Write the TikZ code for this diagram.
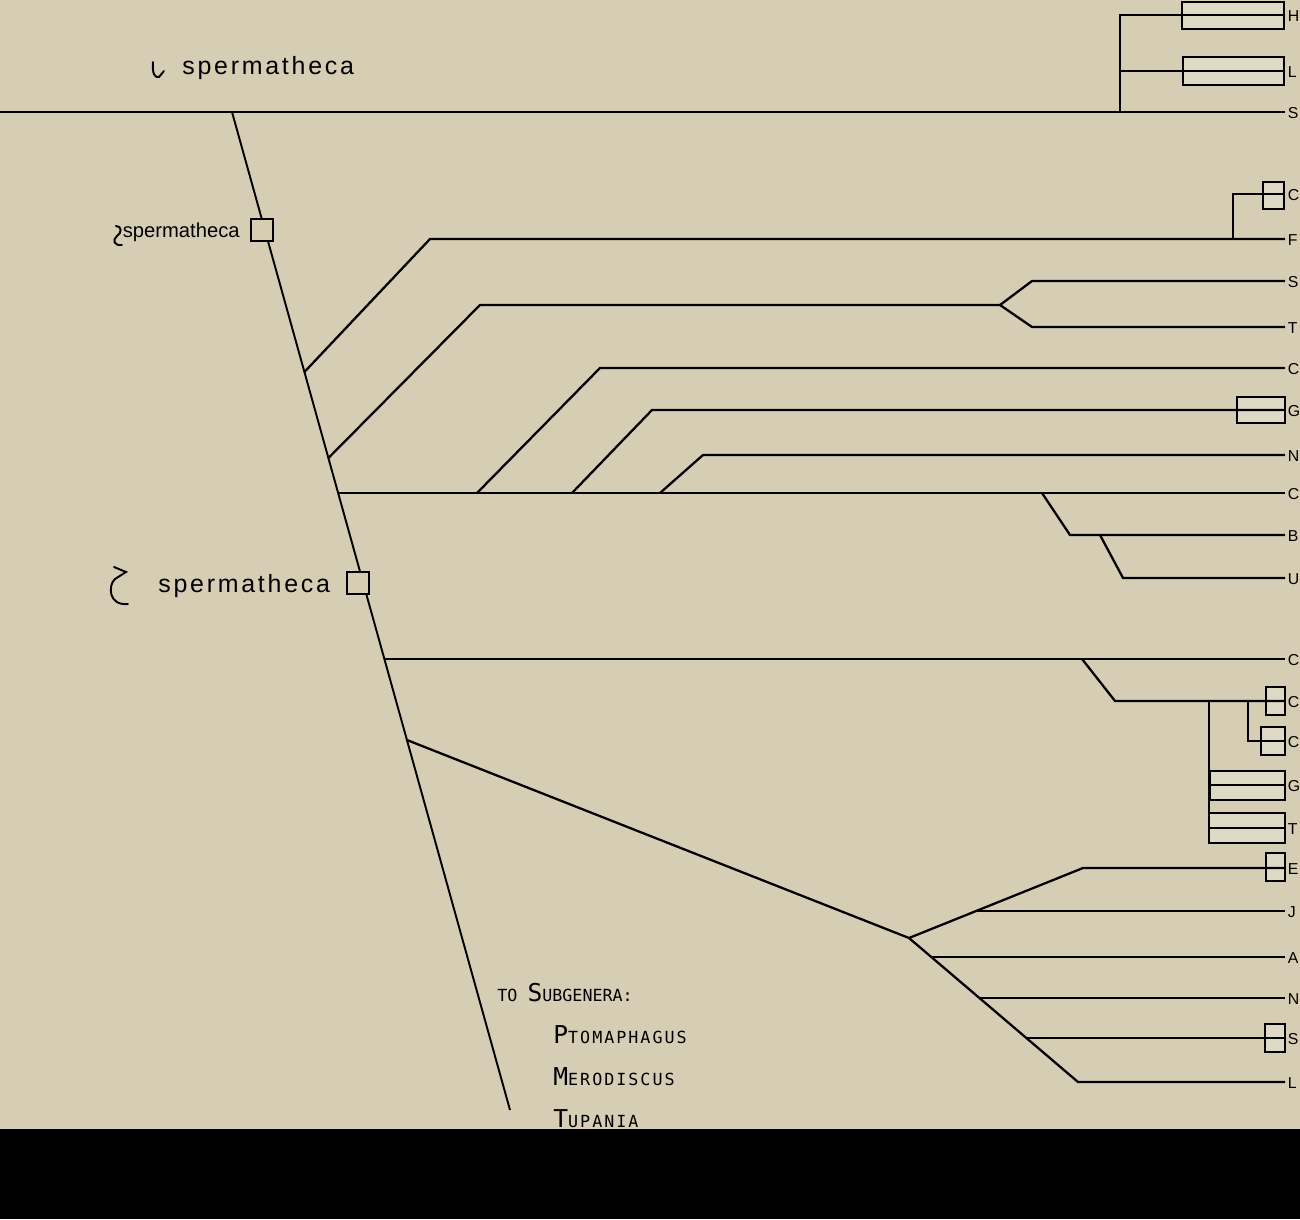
\documentclass[tikz,border=0pt]{standalone}
\usepackage{fontspec}
\setmainfont{Liberation Sans}
\newfontfamily\spfont[LetterSpace=11]{Liberation Sans}
\newfontfamily\sgfont{DejaVu Sans Mono}
\newfontfamily\sgwide[LetterSpace=12]{DejaVu Sans Mono}
\definecolor{paper}{RGB}{213,206,180}
\definecolor{stipple}{RGB}{222,217,197}
\newcommand{\bigsc}[2]{{\fontsize{14}{14}\selectfont#1}{\fontsize{9.5}{10}\selectfont#2}}

\begin{document}
\begin{tikzpicture}[x=0.02cm,y=-0.02cm,
    br/.style={line width=1.3pt},
    trunk/.style={line width=1.1pt},
    boxed/.style={draw,fill=stipple,line width=1pt},
    sq/.style={draw,fill=paper,line width=1pt,minimum size=0.44cm,inner sep=0pt},
    tip/.style={anchor=west,inner xsep=0.05cm,inner ysep=0pt,text height=0.72em,text depth=0pt,font=\fontsize{9}{9}\selectfont},
    hook/.style={line width=1.1pt,line cap=round},
    sub/.style={anchor=base west,inner sep=0pt}]
  \useasboundingbox (0,0) rectangle (1300,1219);
  \fill[paper] (0,0) rectangle (1300,1219);

  % stippled bars
  \draw[boxed] (1182,2) rectangle (1284,29);
  \draw[boxed] (1183,57) rectangle (1284,85);
  \draw[boxed] (1263,182) rectangle (1284,209);
  \draw[boxed] (1237,397) rectangle (1285,423);
  \draw[boxed] (1266,687) rectangle (1285,715);
  \draw[boxed] (1261,727) rectangle (1285,755);
  \draw[boxed] (1210,771) rectangle (1285,800);
  \draw[boxed] (1209,813) rectangle (1285,843);
  \draw[boxed] (1266,853) rectangle (1285,881);
  \draw[boxed] (1265,1024) rectangle (1285,1052);

  % terminal labels
  \foreach \n/\y/\t in {H/15/H, L1/71/L, S1/112/S, C1/194/C, F/239/F, S2/281/S,
      T1/327/T, C2/368/C, G1/410/G, N1/455/N, C3/493/C, B/535/B, U/578/U,
      C4/659/C, C5/701/C, C6/741/C, G2/785/G, T2/828/T, E/868/E, J/911/J,
      A/957/A, N2/998/N, S3/1038/S, L2/1082/L}
    \node[tip] (t\n) at (1285,\y) {\t};

  % trunk and its joints
  \coordinate (root) at (0,112);
  \coordinate (top) at (232,112);
  \coordinate (bot) at (510,1110);
  \coordinate (jF) at (304.4,372);
  \coordinate (jST) at (328.4,458);
  \coordinate (jC) at (338.1,493);
  \coordinate (jC4) at (384.4,659);
  \coordinate (jE) at (406.9,740);

  \draw[br] (root) -- (tS1.west);
  \draw[trunk] (top) -- (bot);

  % top clade
  \coordinate (kHL) at (1120,112);
  \coordinate (kH) at (1120,15);
  \coordinate (kL) at (1120,71);
  \draw[br] (kHL) -- (kH) -- (tH.west);
  \draw[br] (kL) -- (tL1.west);

  % F clade
  \coordinate (kF) at (430,239);
  \coordinate (kFC) at (1233,239);
  \draw[br] (jF) -- (kF) -- (tF.west);
  \draw[br] (kFC) |- (tC1.west);

  % S/T clade
  \coordinate (kST) at (480,305);
  \coordinate (kST2) at (1000,305);
  \coordinate (kS2) at (1032,281);
  \coordinate (kT1) at (1032,327);
  \draw[br] (jST) -- (kST) -- (kST2);
  \draw[br] (tS2.west) -- (kS2) -- (kST2) -- (kT1) -- (tT1.west);

  % middle clade
  \coordinate (kC2a) at (477,493);
  \coordinate (kC2b) at (600,368);
  \coordinate (kG1a) at (572,493);
  \coordinate (kG1b) at (652,410);
  \coordinate (kN1a) at (660,493);
  \coordinate (kN1b) at (703,455);
  \coordinate (kBa) at (1042,493);
  \coordinate (kBb) at (1070,535);
  \coordinate (kUa) at (1100,535);
  \coordinate (kUb) at (1123,578);
  \draw[br] (jC) -- (tC3.west);
  \draw[br] (kC2a) -- (kC2b) -- (tC2.west);
  \draw[br] (kG1a) -- (kG1b) -- (tG1.west);
  \draw[br] (kN1a) -- (kN1b) -- (tN1.west);
  \draw[br] (kBa) -- (kBb) -- (tB.west);
  \draw[br] (kUa) -- (kUb) -- (tU.west);

  % lower clade
  \coordinate (kC5a) at (1082,659);
  \coordinate (kC5b) at (1115,701);
  \coordinate (kGT) at (1209,701);
  \coordinate (kT2) at (1209,828);
  \coordinate (kG2) at (1209,785);
  \coordinate (kC6) at (1248,701);
  \draw[br] (jC4) -- (tC4.west);
  \draw[br] (kC5a) -- (kC5b) -- (tC5.west);
  \draw[br] (kGT) -- (kT2) -- (tT2.west);
  \draw[br] (kG2) -- (tG2.west);
  \draw[br] (kC6) |- (tC6.west);

  % last clade
  \coordinate (v) at (909,938);
  \coordinate (kE) at (1083,868);
  \coordinate (kJ) at (976,911);
  \coordinate (kL2) at (1078,1082);
  \coordinate (kA) at (931,957);
  \coordinate (kN2) at (979,998);
  \coordinate (kS3) at (1026,1038);
  \draw[br] (jE) -- (v);
  \draw[br] (v) -- (kE) -- (tE.west);
  \draw[br] (kJ) -- (tJ.west);
  \draw[br] (v) -- (kL2) -- (tL2.west);
  \draw[br] (kA) -- (tA.west);
  \draw[br] (kN2) -- (tN2.west);
  \draw[br] (kS3) -- (tS3.west);

  % spermatheca marks
  \node[sq] (sqA) at (262,230) {};
  \node[sq] (sqB) at (358,583) {};
  \node[sub] (sp1) at (182,75) {\spfont\fontsize{14.2}{15}\selectfont spermatheca};
  \node[sub,anchor=base east] (sp2) at (240,238) {\fontsize{11.5}{12}\selectfont spermatheca};
  \node[sub] (sp3) at (158,592) {\spfont\fontsize{14.2}{15}\selectfont spermatheca};
  \draw[hook] (153,62) .. controls (152,74) and (155,78) .. (159,77) -- (164,71);
  \draw[hook] (116,226) .. controls (122,226) and (122,233) .. (117,236)
    .. controls (112,240) and (114,246) .. (122,245);
  \draw[hook] (114,567) -- (126,572) -- (115,579)
    .. controls (108,585) and (108,606) .. (128,604);

  % subgenera
  \node[sub] (nSub) at (497,1001) {\sgfont\bigsc{}{TO }\bigsc{S}{UBGENERA:}};
  \node[sub] (nPto) at (553,1043) {\sgwide\bigsc{P}{TOMAPHAGUS}};
  \node[sub] (nMer) at (553,1085) {\sgwide\bigsc{M}{ERODISCUS}};
  \node[sub] (nTup) at (553,1127) {\sgwide\bigsc{T}{UPANIA}};

  \fill[black] (0,1129) rectangle (1300,1219);
\end{tikzpicture}
\end{document}
